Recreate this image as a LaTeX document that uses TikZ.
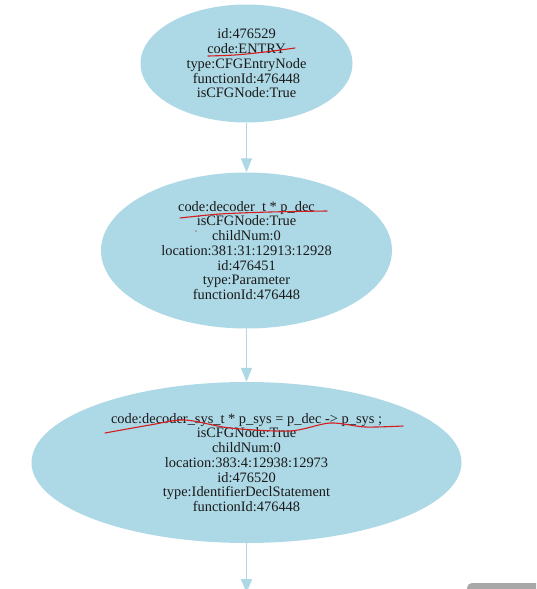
\documentclass[tikz,border=0pt]{standalone}
\usepackage{fontspec}
\setmainfont{Liberation Serif}
\usetikzlibrary{shapes.geometric,arrows.meta}
\definecolor{nodeblue}{RGB}{173,216,230}
\definecolor{scribble}{RGB}{214,28,28}
\definecolor{tabgray}{RGB}{168,168,168}
\tikzset{
  cfgnode/.style={ellipse, fill=nodeblue, draw=none, inner sep=0pt, align=center,
    font=\fontsize{14.4}{14.7}\selectfont, text=black!90},
  flow/.style={draw=nodeblue, line width=1.3pt, -{Triangle[length=14pt,width=11pt]}},
  redline/.style={draw=scribble, line width=1.1pt, line cap=round}
}
\begin{document}
\begin{tikzpicture}[x=1pt,y=-1pt]
\useasboundingbox (0,0) rectangle (536,589);
\begin{scope}
\clip (0,0) rectangle (536,589);
\node[cfgnode, minimum width=212pt, minimum height=118pt] (n1) at (246.5,63.5)
  {id:476529\\code:ENTRY\\type:CFGEntryNode\\functionId:476448\\isCFGNode:True};
\node[cfgnode, minimum width=291pt, minimum height=156pt] (n2) at (246.5,250.5)
  {code:decoder\_t * p\_dec\\isCFGNode:True\\childNum:0\\location:381:31:12913:12928\\id:476451\\type:Parameter\\functionId:476448};
\node[cfgnode, minimum width=430pt, minimum height=161pt] (n3) at (246.5,462.5)
  {code:decoder\_sys\_t * p\_sys = p\_dec -> p\_sys ;\\isCFGNode:True\\childNum:0\\location:383:4:12938:12973\\id:476520\\type:IdentifierDeclStatement\\functionId:476448};
\coordinate (next) at (246.5,593);
\draw[flow] (n1) -- (n2);
\draw[flow] (n2) -- (n3);
\draw[flow] (n3) -- (next);
% hand-drawn red marks
\draw[redline] plot[smooth] coordinates {(208,56) (235,55) (265,52) (295,48)};
\draw[redline] plot[smooth] coordinates {(180,218) (220,214) (270,212) (327,211)};
\draw[redline] plot[smooth] coordinates {(105,433) (150,425) (185,420) (230,428) (290,431) (330,423) (365,427) (403,426)};
\fill[scribble!60!black] (196,231) circle (0.7);
% grey tab at the lower right corner
\fill[tabgray, rounded corners=5pt] (467,583) rectangle (560,600);
\end{scope}
\end{tikzpicture}
\end{document}
